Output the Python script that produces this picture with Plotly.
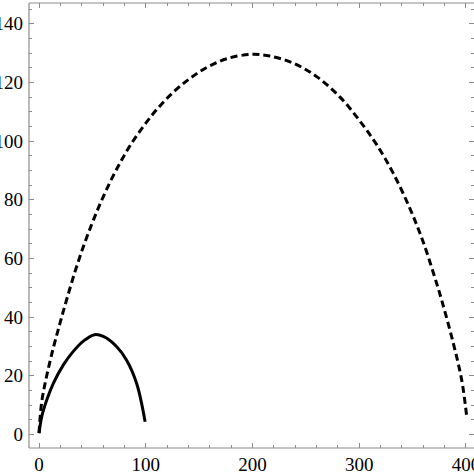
import plotly.graph_objects as go

# Solid curve (short trajectory)
solid_x = [0, 2.5, 7.2, 13.4, 22.8, 32.1, 41.5, 52.0, 60.2, 72.8, 82.2, 91.6, 99.4]
solid_y = [0.4, 6.0, 11.7, 17.4, 23.7, 28.3, 31.8, 34.0, 33.4, 29.9, 25.2, 17.2, 4.3]

# Dashed curve (long trajectory)
dash_x = [0, 2.5, 7.2, 13.4, 19.7, 25.9, 33.7, 41.5, 49.4, 57.1, 66.5, 75.9, 85.2, 97.7,
          110.3, 125.8, 141.5, 157.1, 175.8, 199.3, 216.4, 238.2, 260.1, 282.0, 300.7,
          316.3, 331.9, 347.5, 360.0, 372.5, 377.2, 388.1, 396.0, 400.7]
dash_y = [0.5, 11.0, 20.0, 29.5, 38.0, 46.0, 55.5, 64.0, 71.7, 78.5, 86.0, 92.6, 98.4, 105.0,
          110.8, 116.7, 121.4, 125.1, 128.1, 129.6, 129.0, 126.6, 122.0, 115.0, 106.8,
          98.8, 89.0, 77.0, 65.5, 51.5, 45.8, 31.1, 18.5, 6.0]

x_ticks = [0, 100, 200, 300, 400]
y_ticks = [0, 20, 40, 60, 80, 100, 120, 140]

frame = "#8c8c8c"
font = dict(family="Liberation Serif, Times New Roman, serif", size=19, color="black")

fig = go.Figure()
fig.add_trace(go.Scatter(x=dash_x, y=dash_y, mode="lines", line_shape="spline",
                         line=dict(color="black", width=3, dash="7px,4px")))
fig.add_trace(go.Scatter(x=solid_x, y=solid_y, mode="lines", line_shape="spline",
                         line=dict(color="black", width=3)))

fig.update_layout(
    width=474, height=474,
    margin=dict(l=29, r=0, t=3, b=26),
    paper_bgcolor="white", plot_bgcolor="white",
    showlegend=False,
    font=font,
    xaxis=dict(range=[-9.4, 407.5], tickvals=x_ticks, ticks="inside", ticklen=5,
               tickcolor=frame, tickwidth=1, showgrid=False, zeroline=False,
               showline=False, mirror="ticks", ticklabeloverflow="allow",
               ticklabelstandoff=3, automargin=False,
               minor=dict(dtick=20, ticks="inside", ticklen=3, tickcolor=frame, tickwidth=1),
               tickfont=font),
    yaxis=dict(range=[-4.64, 147.1], tickvals=y_ticks, ticks="inside", ticklen=5,
               tickcolor=frame, tickwidth=1, showgrid=False, zeroline=False,
               showline=False, mirror="ticks", ticklabeloverflow="allow",
               ticklabelstandoff=5, automargin=False,
               minor=dict(dtick=5, ticks="inside", ticklen=3, tickcolor=frame, tickwidth=1),
               tickfont=font),
)

for (x0, y0, x1, y1) in [(0, 0, 0, 1), (0, 0, 1, 0), (0, 1, 1, 1)]:
    fig.add_shape(type="line", xref="paper", yref="paper", x0=x0, y0=y0, x1=x1, y1=y1,
                  line=dict(color=frame, width=1.2))

fig.write_html("out.html")
